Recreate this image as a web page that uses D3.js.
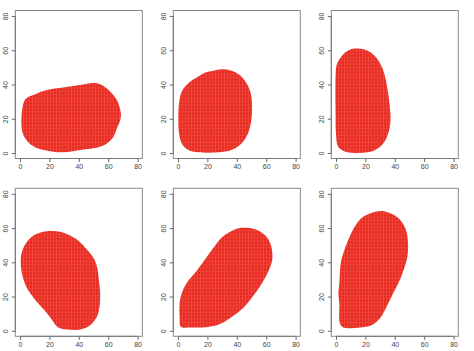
<!DOCTYPE html>
<html><head><meta charset="utf-8">
<script src="https://cdn.jsdelivr.net/npm/d3@7/dist/d3.min.js"></script>
<style>html,body{margin:0;padding:0;background:#fff;}svg{display:block;}</style>
</head><body>
<script>
// Tick labels (both axes)
const ticks = [0, 20, 40, 60, 80];
// Outline of each blob, [x, y] in data units
const blob1 = [[4.1,31.9],[9.1,33.9],[18.2,36.8],[29.5,38.3],[40.9,39.7],[47.7,40.7],[52.3,40.7],[56.8,39.1],[61.4,35.8],[65.9,30.9],[68.6,23.2],[68.2,19.3],[65.9,14.4],[63.6,9.5],[59.1,5.6],[54.5,3.7],[40.9,1.75],[29.5,0.4],[22.7,0.8],[13.6,2.3],[6.8,5.3],[2.3,10.5],[1.1,15.4],[1.1,22.2],[2.3,29]];
const blob2 = [[24,48.1],[29.6,48.9],[36.4,48.1],[42,45.5],[46.6,40.7],[49.5,34.8],[50.4,27.1],[49.9,19.3],[47.7,11.5],[43.2,5.6],[36.4,1.75],[27.3,0.4],[13.8,0.4],[7,1.75],[2.5,5.6],[0.7,11.5],[0.2,19.3],[0.7,29],[2.5,35.8],[7,40.7],[13.8,44.6],[18.3,46.9]];
const blob3 = [[9.5,60.4],[15.1,61],[20.8,60],[26.4,56.7],[31,50.6],[33.9,42.7],[35.5,34.9],[36.6,27],[37.1,19.2],[35.5,11.4],[32.1,5.5],[26.4,1.6],[16.3,0],[7.2,0.6],[1.6,3.5],[0,11.4],[-0.3,23],[-0.4,33],[-0.3,44.7],[0.5,51.6],[3.8,56.5]];
const blob4 = [[9.1,55.6],[18.2,58.1],[27.3,57.9],[34.1,55.6],[40.9,51.7],[45.5,47.4],[50,42.5],[52.3,37.6],[53.4,31.7],[54.5,21.9],[54.1,14.1],[52.3,8.2],[47.7,3.3],[40.9,0.8],[31.8,0.8],[25.5,2.3],[21.8,6.3],[16.5,12.1],[10,18.5],[5,24.5],[1.8,31.7],[0.5,39.5],[1.1,45.4],[3.4,50.3]];
const blob5 = [[36.2,58.1],[42.9,60.1],[51.9,59.5],[58.7,56.2],[62.7,51.3],[64.3,43.4],[63.6,39.5],[60.9,33.7],[56.4,26.8],[50.8,20],[45.2,14.1],[38.4,9.2],[29.4,4.3],[20.4,2.3],[7,2],[2,2.3],[1.1,8.2],[1.1,16],[2.5,21.9],[5.8,27.8],[11.5,33.7],[18.2,41.5],[24.9,49.3],[29.4,54.2]];
const blob6 = [[23,68.5],[31,69.9],[37.7,68.3],[43.4,65],[47.5,59.1],[49,51.3],[48.6,43.4],[46.8,37.6],[43.4,29.7],[38.9,21.9],[34.4,14.1],[29.8,7.2],[24.2,3.3],[16.3,2],[5,2],[2.7,4.3],[2.3,16],[1.6,21.9],[2.3,27.8],[3.2,39.5],[5,45.4],[8.4,53.2],[12.9,61],[17.4,65.9]];
const blobs = [blob1, blob2, blob3, blob4, blob5, blob6];

const W = 474, H = 351;
const svg = d3.select("body").append("svg").attr("width", W).attr("height", H);
const defs = svg.append("defs");
defs.append("filter").attr("id","soft").append("feGaussianBlur").attr("stdDeviation",0.6);
const pat = defs.append("pattern").attr("id","dots").attr("patternUnits","userSpaceOnUse")
  .attr("width",3).attr("height",3.4);
pat.append("rect").attr("width",3).attr("height",3.4).attr("fill","#e82a20");
pat.append("rect").attr("x",2).attr("width",1).attr("height",3.4).attr("fill","#ee5246").attr("opacity",0.6);
pat.append("rect").attr("y",2.4).attr("width",3).attr("height",1).attr("fill","#ee5246").attr("opacity",0.6);

const pw = 127, ph = 148;
const dom = [-3.2, 83.2];
blobs.forEach((b, i) => {
  const col = i % 3, row = Math.floor(i / 3);
  const left = 15.3 + col * 158, top = 10.5 + row * 177.8;
  const x = d3.scaleLinear().domain(dom).range([left, left + pw]);
  const y = d3.scaleLinear().domain(dom).range([top + ph, top]);
  const g = svg.append("g");
  const line = d3.line().x(d => x(d[0])).y(d => y(d[1])).curve(d3.curveCatmullRomClosed.alpha(0.5));
  g.append("path").attr("d", line(b)).attr("fill", "url(#dots)").attr("filter","url(#soft)");
  g.append("rect").attr("x", left).attr("y", top).attr("width", pw).attr("height", ph)
    .attr("fill", "none").attr("stroke", "#8a8a8a").attr("stroke-width", 1);
  const xa = d3.axisBottom(x).tickValues(ticks).tickSize(3.5).tickPadding(2).tickSizeOuter(0);
  const ya = d3.axisLeft(y).tickValues(ticks).tickSize(3.5).tickPadding(2).tickSizeOuter(0);
  const gx = g.append("g").attr("transform", `translate(0,${top + ph})`).call(xa);
  const gy = g.append("g").attr("transform", `translate(${left},0)`).call(ya);
  [gx, gy].forEach(a => {
    a.selectAll(".tick line").attr("stroke", "#666");
    a.selectAll("text").attr("fill", "#444").attr("font-family", "Liberation Sans, Arial, sans-serif").attr("font-size", 7);
  });
  gx.select(".domain").remove();
  gy.select(".domain").remove();
  gx.append("line").attr("x1", x(0)).attr("x2", x(80)).attr("stroke", "#777");
  gy.append("line").attr("y1", y(0)).attr("y2", y(80)).attr("stroke", "#777");
  gy.selectAll(".tick text").attr("text-anchor", "middle").attr("x", null).attr("dy", null)
    .attr("transform", "translate(-10,0) rotate(-90)").attr("dominant-baseline", "central");
});
</script>
</body></html>
